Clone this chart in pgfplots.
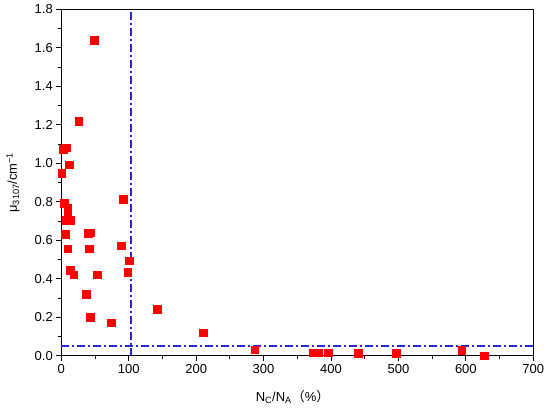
\documentclass[border=0pt]{standalone}
\usepackage{pgfplots}
\pgfplotsset{compat=1.18}
\usepackage{fontspec}
\setmainfont{Liberation Sans}
\newfontfamily\cjk{Noto Sans CJK SC}
\definecolor{dashblue}{RGB}{40,40,205}
\begin{document}
\begin{tikzpicture}
\begin{axis}[
  scale only axis,
  width=472pt, height=346.4pt,
  xmin=0, xmax=700, ymin=0, ymax=1.8,
  xtick={0,100,...,700},
  ytick={0,0.2,...,1.8},
  minor x tick num=1,
  minor y tick num=1,
  tick pos=left,
  tick align=outside,
  major tick length=5pt,
  minor tick length=3pt,
  axis line style={line width=0.8pt},
  every tick/.style={black, line width=0.8pt},
  /pgf/number format/assume math mode=true,
  yticklabel style={/pgf/number format/fixed, /pgf/number format/fixed zerofill, /pgf/number format/precision=1},
  ticklabel style={font=\fontsize{13}{15}\selectfont},
  xlabel={N\textsubscript{C}/N\textsubscript{A}{\cjk （}\%{\cjk ）}},
  ylabel={μ\textsubscript{3107}/cm\textsuperscript{−1}},
  label style={font=\fontsize{13}{15}\selectfont},
  xlabel style={at={(axis description cs:0.49,-0.119)}, anchor=center},
  ylabel style={at={(axis description cs:-0.1025,0.5)}, anchor=center},
  clip=false,
]
\addplot[only marks, mark=square*, mark size=3.8pt, color=red] coordinates {
(49,1.64) (26,1.22) (3,1.074) (7,1.081) (11.4,0.993) (0.6,0.948)
(92,0.813) (4.5,0.792) (9.5,0.77) (9.5,0.74) (13,0.705) (7,0.705)
(5.5,0.631) (40,0.636) (42.5,0.639) (9.5,0.557) (41.5,0.555) (88.5,0.572)
(100.4,0.494) (98.5,0.435) (13,0.444) (18.4,0.421) (53,0.421) (36.6,0.319)
(142,0.243) (43,0.201) (74,0.172) (210.6,0.12) (287,0.031) (374,0.016)
(381,0.016) (395.5,0.016) (440.5,0.012) (497,0.012) (594,0.03) (627,0.0)
};
\addplot[dashblue, line width=1.6pt, dash pattern=on 8pt off 3pt on 2pt off 3pt] coordinates {(0,0.05) (700,0.05)};
\addplot[dashblue, line width=1.6pt, dash pattern=on 8pt off 3pt on 2pt off 3pt] coordinates {(103,0) (103,1.8)};
\end{axis}
\pgfresetboundingbox
\useasboundingbox (-61.3pt,-56.3pt) rectangle (488.7pt,355.7pt);
\end{tikzpicture}
\end{document}
